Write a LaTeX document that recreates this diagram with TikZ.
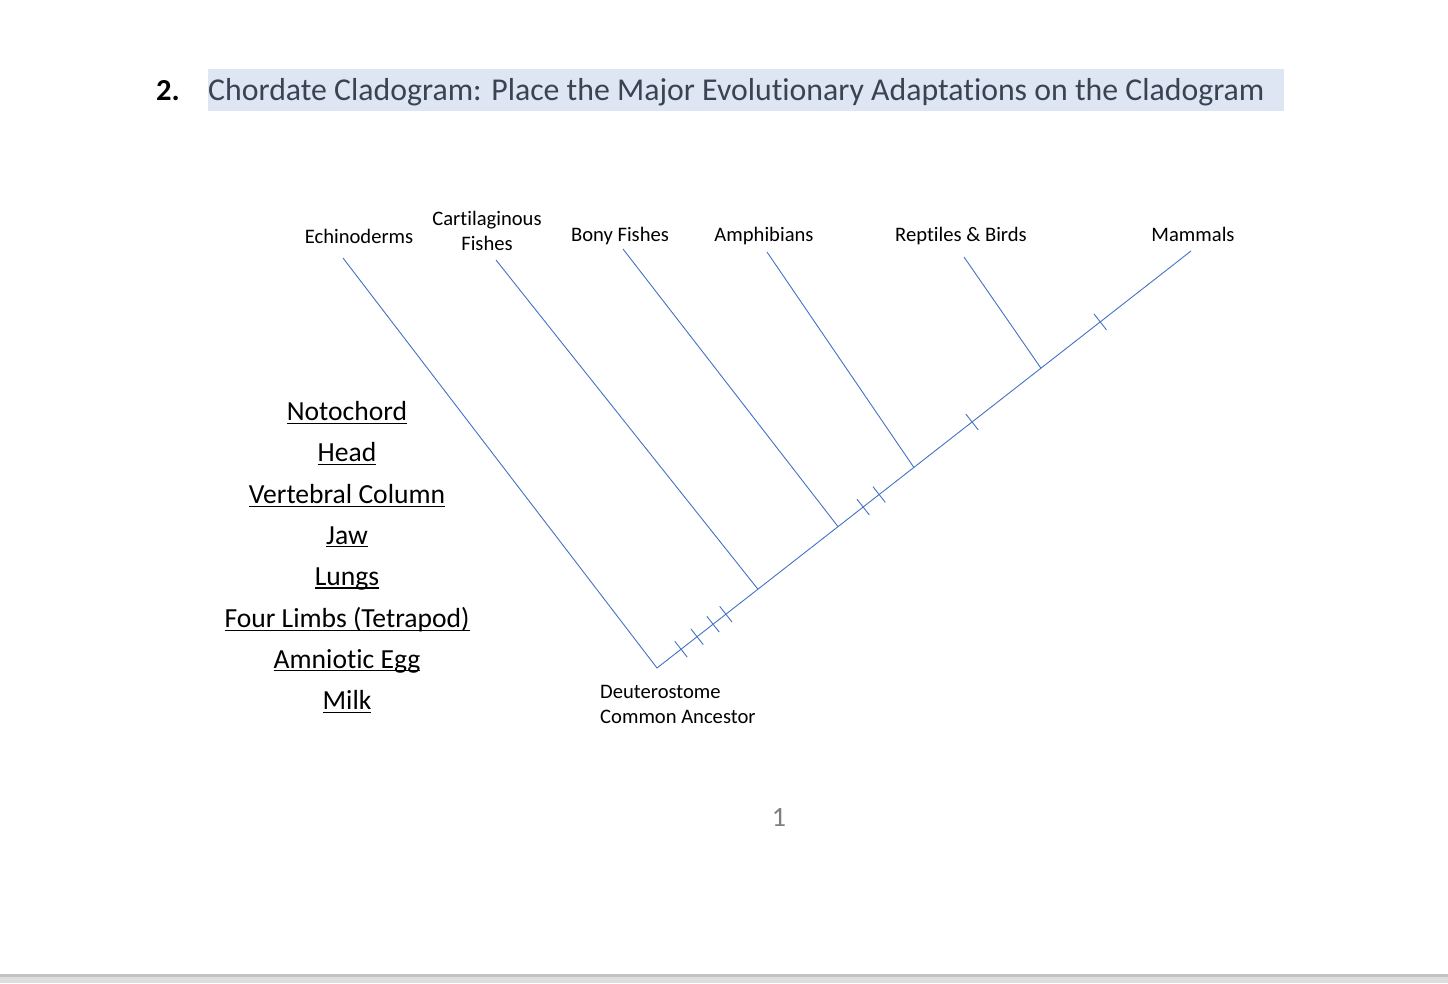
\documentclass[tikz,border=0pt]{standalone}
\usepackage{fontspec}
\setmainfont{Carlito}[Ligatures=NoCommon]
\definecolor{cladeblue}{HTML}{4472C4}
\definecolor{hilite}{HTML}{DFE6F3}
\definecolor{titletext}{HTML}{3A4352}
\definecolor{pagegray}{HTML}{7F7F7F}
\definecolor{barline}{HTML}{C2C2C2}
\definecolor{barfill}{HTML}{DEDEDE}
\newcommand{\ulword}[1]{\setbox0\hbox{#1}\rlap{\rule[-3.2pt]{\wd0}{1.4pt}}\box0}
\tikzset{
  clade/.style={draw=cladeblue, line width=0.9pt},
  taxon/.style={font=\fontsize{20.6}{25}\selectfont, inner sep=0pt, align=center},
  trait/.style={font=\fontsize{27.6}{30}\selectfont, inner sep=0pt},
  tickmark/.style={draw=cladeblue, line width=0.9pt},
}
\newcommand{\crosstick}[2]{%
  \path (root) -- (mamtip) coordinate[pos=#1] (#2);
  \draw[tickmark] ($(#2)+(-6.2,-7.9)$) -- ($(#2)+(6.2,7.9)$);}
\usetikzlibrary{calc}
\begin{document}
\begin{tikzpicture}[x=1pt,y=-1pt]
\useasboundingbox (0,0) rectangle (1448,983);
\fill[white] (0,0) rectangle (1448,983);
% bottom bar
\fill[barfill] (0,975) rectangle (1448,983);
\fill[barline] (0,974) rectangle (1448,976.5);
% title
\fill[hilite] (208,69) rectangle (1284,111);
\node[anchor=base west, inner sep=0pt, font=\bfseries\fontsize{30.5}{36}\selectfont] (num) at (156,100) {2.};
\node[anchor=base west, inner sep=0pt, text=titletext, font=\fontsize{31.8}{36}\selectfont] (title) at (208,100) {Chordate Cladogram: Place the Major Evolutionary Adaptations on the Cladogram};
% tree
\coordinate (root) at (657,668);
\coordinate (mamtip) at (1191,251);
\path (root) -- (mamtip) coordinate[pos=0.189] (jcart)
                        coordinate[pos=0.339] (jbony)
                        coordinate[pos=0.481] (jamph)
                        coordinate[pos=0.719] (jrept);
\coordinate (echtip) at (343,258);
\coordinate (carttip) at (496,260);
\coordinate (bonytip) at (623,249);
\coordinate (amphtip) at (767,252);
\coordinate (repttip) at (964,257);
\draw[clade] (echtip) -- (root) -- (mamtip);
\draw[clade] (jcart) -- (carttip);
\draw[clade] (jbony) -- (bonytip);
\draw[clade] (jamph) -- (amphtip);
\draw[clade] (jrept) -- (repttip);
\crosstick{0.045}{t1}
\crosstick{0.075}{t2}
\crosstick{0.105}{t3}
\crosstick{0.129}{t4}
\crosstick{0.386}{t5}
\crosstick{0.416}{t6}
\crosstick{0.590}{t7}
\crosstick{0.830}{t8}
% taxa
\node[taxon] (ech) at (359,236) {Echinoderms};
\node[taxon] (cart) at (487,231) {Cartilaginous\\[0pt]Fishes};
\node[taxon] (bony) at (620,236) {Bony Fishes};
\node[taxon] (amph) at (764,236) {Amphibians};
\node[taxon] (rept) at (961,236) {Reptiles \& Birds};
\node[taxon] (mam) at (1193,234) {Mammals};
\node[taxon, align=left, anchor=north west] (anc) at (600,685) {Deuterostome\\[0.5pt]Common Ancestor};
% traits
\node[trait] (n1) at (347,413) {\ulword{Notochord}};
\node[trait] (n2) at (347,454) {\ulword{Head}};
\node[trait] (n3) at (347,496) {\ulword{Vertebral Column}};
\node[trait] (n4) at (347,537) {\ulword{Jaw}};
\node[trait] (n5) at (347,579) {\ulword{Lungs}};
\node[trait] (n6) at (347,620) {\ulword{Four Limbs (Tetrapod)}};
\node[trait] (n7) at (347,661) {\ulword{Amniotic Egg}};
\node[trait] (n8) at (347,702) {\ulword{Milk}};
% page number
\node[inner sep=0pt, text=pagegray, font=\fontsize{28}{30}\selectfont] (page) at (779,817) {1};
\end{tikzpicture}
\end{document}
